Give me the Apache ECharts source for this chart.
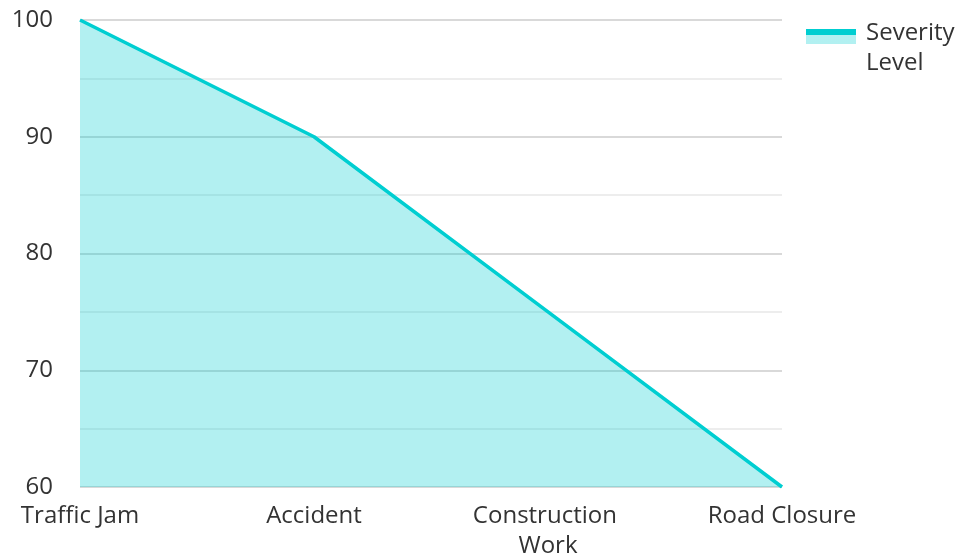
<!DOCTYPE html>
<html>
<head>
<meta charset="utf-8">
<style>
  html, body { margin: 0; padding: 0; background: #fff; }
  #chart { width: 962px; height: 558px; }
</style>
<script src="https://cdn.jsdelivr.net/npm/echarts@6/dist/echarts.min.js"></script>
</head>
<body>
<div id="chart"></div>
<script>
// 事件类型与严重程度
const categories = ['Traffic Jam', 'Accident', 'Construction Work', 'Road Closure'];
const severityValues = [100, 90, 75, 60];
const seriesName = 'Severity Level';

const lineColor = '#00CED1';
const areaColor = 'rgba(0,206,209,0.3)';
const fontFamily = '"Open Sans", "Noto Sans", sans-serif';

const myChart = echarts.init(document.getElementById('chart'));
const option = {
    animation: false,
    textStyle: { fontFamily: fontFamily },
    grid: {
        left: 80,
        right: 180,
        top: 20,
        bottom: 71,
        outerBoundsMode: 'none'
    },
    legend: {
        data: [seriesName],
        orient: 'vertical',
        left: 806,
        top: 18,
        padding: 0,
        icon: 'rect',
        itemWidth: 50,
        itemHeight: 38,
        // 图例图标：上面是线，下面是面积
        itemStyle: {
            color: new echarts.graphic.LinearGradient(0, 0, 0, 1, [
                { offset: 0, color: lineColor },
                { offset: 0.15, color: lineColor },
                { offset: 0.15, color: areaColor },
                { offset: 0.39, color: areaColor },
                { offset: 0.39, color: 'rgba(255,255,255,0)' },
                { offset: 1, color: 'rgba(255,255,255,0)' }
            ])
        },
        formatter: function (name) {
            return name.replace(' ', '\n');
        },
        textStyle: {
            color: '#333',
            fontSize: 24,
            lineHeight: 30,
            fontFamily: fontFamily,
            padding: [0, 0, 0, 5]
        }
    },
    xAxis: {
        type: 'category',
        data: categories,
        boundaryGap: false,
        axisLine: { show: false },
        axisTick: { show: false },
        axisLabel: {
            interval: 0,
            color: '#333',
            fontSize: 24,
            lineHeight: 30,
            margin: 14,
            width: 160,
            overflow: 'break',
            fontFamily: fontFamily
        },
        splitLine: { show: false }
    },
    yAxis: {
        type: 'value',
        min: 60,
        max: 100,
        interval: 10,
        axisLine: { show: false },
        axisTick: { show: false },
        axisLabel: {
            color: '#333',
            fontSize: 24,
            margin: 27,
            fontFamily: fontFamily
        },
        splitLine: {
            show: true,
            lineStyle: { color: '#cccccc', width: 1.5 }
        },
        minorTick: { show: false, splitNumber: 2 },
        minorSplitLine: {
            show: true,
            lineStyle: { color: '#e8e8e8', width: 1.5 }
        }
    },
    series: [{
        name: seriesName,
        type: 'line',
        data: severityValues,
        symbol: 'none',
        lineStyle: { color: lineColor, width: 3.5 },
        itemStyle: { color: lineColor },
        areaStyle: { color: areaColor, opacity: 1 }
    }]
};
myChart.setOption(option);
</script>
</body>
</html>
